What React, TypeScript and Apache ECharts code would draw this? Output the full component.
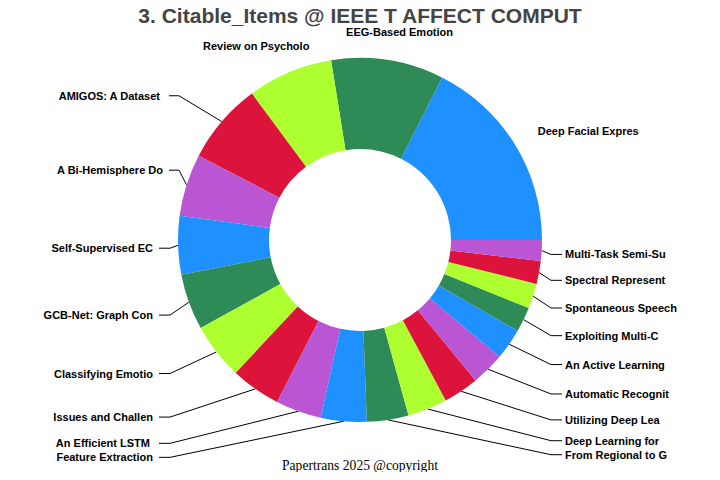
import React, { useEffect, useRef } from 'react'
import * as echarts from 'echarts'

// citable items per paper, names cut at 18 chars as in the source
const names = [
  'Deep Facial Expres',
  'EEG-Based Emotion ',
  'Review on Psycholo',
  'AMIGOS: A Dataset ',
  'A Bi-Hemisphere Do',
  'Self-Supervised EC',
  'GCB-Net: Graph Con',
  'Classifying Emotio',
  'Issues and Challen',
  'An Efficient LSTM ',
  'Feature Extraction',
  'From Regional to G',
  'Deep Learning for ',
  'Utilizing Deep Lea',
  'Automatic Recognit',
  'An Active Learning',
  'Exploiting Multi-C',
  'Spontaneous Speech',
  'Spectral Represent',
  'Multi-Task Semi-Su',
]
const values = [95, 54, 41, 39, 30, 28, 27, 27, 24, 22, 22, 20, 19, 17, 16, 15, 12, 12, 11, 10]
const palette = ['#1e90ff', '#2e8b57', '#adff2f', '#dc143c', '#ba55d3']
// labels near the top sit without a leader line
const noLine = ['Deep Facial Expres', 'EEG-Based Emotion ', 'Review on Psycholo']

const R0 = 91
const R = 182

type LabelPos = {
  x: number
  y: number
  align: 'left' | 'right' | 'center'
  line?: number[][]
}

// place labels in two columns beside the ring, the top ones freely on an ellipse
function layoutLabels(cx: number, cy: number): LabelPos[] {
  const total = values.reduce((a, b) => a + b, 0)
  let cum = 0
  const out: (LabelPos & { right: boolean; free: boolean; ang: number })[] = values.map((v, i) => {
    const ang = ((cum + v / 2) / total) * Math.PI * 2
    cum += v
    const c = Math.cos(ang)
    const s = Math.sin(ang)
    const free = noLine.includes(names[i])
    let y = cy + 2 - 214 * s
    if (free) return { x: cx + 268 * c, y: y + 1.5, align: 'center', right: c >= 0, free, ang }
    // the upper left column sits a little higher
    if (c < 0 && s > 0.1) y -= 7
    return { x: 0, y, align: c >= 0 ? 'left' : 'right', right: c >= 0, free, ang }
  })
  // keep neighbours in a column at least 14px apart, pushing downward
  for (const side of [true, false]) {
    const col = out.filter(p => p.right === side && !p.free).sort((a, b) => a.y - b.y)
    for (let k = 1; k < col.length; k++) {
      if (col[k].y - col[k - 1].y < 14) col[k].y = col[k - 1].y + 14
    }
  }
  return out.map(p => {
    if (p.free) return p
    const p1 = [cx + R * Math.cos(p.ang), cy - R * Math.sin(p.ang)]
    let x2: number, x3: number, tx: number
    if (p.right) {
      x2 = cx + 191
      x3 = cx + 202
      tx = cx + 205
    } else {
      const upper = p.y < cy - 40
      x2 = cx - (upper ? 181 : 190)
      x3 = cx - (upper ? 191 : 201)
      tx = cx - (upper ? 197 : 207)
    }
    return { x: tx, y: p.y, align: p.align, line: [p1, [x2, p.y], [x3, p.y]] }
  })
}

const App: React.FC = () => {
  const chartRef = useRef<HTMLDivElement>(null)

  useEffect(() => {
    if (!chartRef.current) return
    const chart = echarts.init(chartRef.current, null, { renderer: 'svg' })
    const cx = chart.getWidth() / 2
    const cy = chart.getHeight() / 2
    const pos = layoutLabels(cx, cy)

    const data = names.map((name, i) => ({
      name,
      value: values[i],
      itemStyle: { color: palette[i % palette.length] },
      labelLine: { show: !noLine.includes(name) },
    }))

    chart.setOption({
      animation: false,
      title: {
        text: '3. Citable_Items @ IEEE T AFFECT COMPUT',
        left: 'center',
        top: 5,
        padding: 0,
        textStyle: {
          fontFamily: 'Arial, "Liberation Sans", sans-serif',
          fontSize: 21,
          fontWeight: 'bold',
          color: '#444',
        },
      },
      graphic: [
        {
          type: 'text',
          left: 'center',
          top: 458,
          style: {
            text: 'Papertrans 2025 @copyright',
            font: '13.6px "Times New Roman", "Liberation Serif", serif',
            fill: '#000',
          },
        },
      ],
      series: [
        {
          type: 'pie',
          center: ['50%', '50%'],
          radius: [R0, R],
          startAngle: 0,
          clockwise: false,
          data,
          label: {
            show: true,
            position: 'outside',
            fontFamily: 'Arial, "Liberation Sans", sans-serif',
            fontSize: 11,
            fontWeight: 'bold',
            color: '#000',
          },
          labelLine: {
            length: 10,
            length2: 10,
            lineStyle: { color: '#000', width: 1 },
          },
          labelLayout: (params: any) => {
            const p = pos[params.dataIndex]
            const res: any = { x: p.x, y: p.y, align: p.align, verticalAlign: 'middle' }
            if (p.line) res.labelLinePoints = p.line
            return res
          },
          emphasis: { disabled: true },
        },
      ],
    })

    return () => {
      chart.dispose()
    }
  }, [])

  return <div ref={chartRef} style={{ width: 720, height: 480, margin: -8 }} />
}

export default App
